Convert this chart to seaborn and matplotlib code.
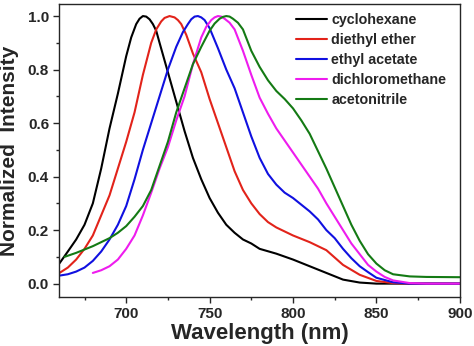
import numpy as np
import pandas as pd
import matplotlib
matplotlib.use("Agg")
import matplotlib.pyplot as plt
import seaborn as sns
from matplotlib.ticker import MultipleLocator

sns.set_style("ticks")
plt.rcParams['font.family'] = ['Liberation Sans', 'DejaVu Sans']
plt.rcParams['font.weight'] = 'bold'

# Data
cyc_x = [660, 665, 670, 675, 680, 685, 690, 695, 700, 703, 706, 708, 710, 712, 714, 716, 718, 720, 725, 730, 735, 740, 745, 750, 755, 760, 765, 770, 775, 780, 790, 800, 810, 820, 830, 840, 850, 900]
cyc_y = [0.076, 0.12, 0.165, 0.22, 0.30, 0.43, 0.58, 0.71, 0.85, 0.92, 0.97, 0.99, 1.0, 0.998, 0.988, 0.97, 0.945, 0.90, 0.79, 0.68, 0.57, 0.47, 0.39, 0.32, 0.265, 0.22, 0.19, 0.165, 0.15, 0.13, 0.112, 0.09, 0.065, 0.04, 0.015, 0.004, 0.0, 0.0]

dee_x = [660, 665, 670, 675, 680, 685, 690, 695, 700, 705, 710, 715, 718, 721, 723, 726, 729, 731, 733, 736, 740, 745, 750, 755, 760, 765, 770, 775, 780, 785, 790, 800, 810, 820, 830, 840, 850, 860, 870, 900]
dee_y = [0.04, 0.06, 0.09, 0.13, 0.18, 0.255, 0.33, 0.43, 0.53, 0.64, 0.78, 0.90, 0.95, 0.98, 0.993, 1.0, 0.995, 0.985, 0.97, 0.93, 0.86, 0.79, 0.69, 0.60, 0.51, 0.42, 0.35, 0.30, 0.26, 0.23, 0.21, 0.18, 0.155, 0.125, 0.07, 0.033, 0.01, 0.002, 0.0, 0.0]

eac_x = [660, 665, 670, 675, 680, 685, 690, 695, 700, 705, 710, 715, 720, 725, 730, 734, 737, 739, 741, 743, 745, 747, 750, 755, 760, 765, 770, 775, 780, 785, 790, 795, 800, 810, 815, 820, 825, 830, 835, 840, 845, 850, 860, 870, 900]
eac_y = [0.03, 0.035, 0.045, 0.06, 0.085, 0.12, 0.165, 0.22, 0.29, 0.39, 0.50, 0.60, 0.70, 0.80, 0.885, 0.94, 0.97, 0.988, 0.998, 1.0, 0.995, 0.985, 0.955, 0.88, 0.80, 0.73, 0.64, 0.55, 0.47, 0.41, 0.37, 0.34, 0.32, 0.27, 0.24, 0.20, 0.17, 0.13, 0.095, 0.065, 0.043, 0.022, 0.005, 0.0, 0.0]

dcm_x = [680, 685, 690, 695, 700, 705, 710, 715, 720, 725, 730, 735, 740, 745, 748, 751, 753, 755, 757, 759, 762, 765, 770, 775, 780, 785, 790, 795, 800, 805, 810, 815, 820, 825, 830, 835, 840, 845, 850, 855, 860, 870, 880, 900]
dcm_y = [0.04, 0.05, 0.065, 0.09, 0.13, 0.18, 0.255, 0.34, 0.43, 0.51, 0.61, 0.70, 0.82, 0.92, 0.96, 0.985, 0.995, 1.0, 0.998, 0.99, 0.975, 0.95, 0.87, 0.78, 0.695, 0.635, 0.58, 0.535, 0.49, 0.445, 0.40, 0.355, 0.30, 0.25, 0.20, 0.15, 0.11, 0.07, 0.045, 0.025, 0.012, 0.002, 0.0, 0.0]

acn_x = [663, 670, 680, 690, 695, 700, 705, 710, 715, 720, 725, 730, 735, 740, 745, 750, 753, 756, 758, 760, 762, 764, 767, 770, 775, 780, 785, 790, 795, 800, 805, 810, 815, 820, 825, 830, 835, 840, 845, 850, 855, 860, 870, 880, 900]
acn_y = [0.10, 0.115, 0.14, 0.17, 0.19, 0.215, 0.25, 0.29, 0.35, 0.44, 0.53, 0.64, 0.73, 0.82, 0.885, 0.945, 0.972, 0.99, 0.997, 1.0, 0.998, 0.99, 0.975, 0.95, 0.87, 0.81, 0.76, 0.72, 0.69, 0.655, 0.61, 0.56, 0.495, 0.43, 0.36, 0.29, 0.22, 0.16, 0.11, 0.075, 0.05, 0.035, 0.027, 0.025, 0.024]

series = [
    ("cyclohexane", cyc_x, cyc_y, "#000000"),
    ("diethyl ether", dee_x, dee_y, "#e2231a"),
    ("ethyl acetate", eac_x, eac_y, "#1010e0"),
    ("dichloromethane", dcm_x, dcm_y, "#ee1cee"),
    ("acetonitrile", acn_x, acn_y, "#147a14"),
]

fig = plt.figure(figsize=(4.74, 3.46), dpi=100)
ax = fig.add_axes([0.1255, 0.1416, 0.8445, 0.8468])

for name, xs, ys, col in series:
    sns.lineplot(x=xs, y=ys, ax=ax, color=col, linewidth=1.5, label=name, sort=False)

ax.set_xlim(660, 900)
ax.set_ylim(-0.05, 1.045)
ax.xaxis.set_major_locator(MultipleLocator(50))
ax.xaxis.set_minor_locator(MultipleLocator(25))
ax.yaxis.set_minor_locator(MultipleLocator(0.1))
ax.set_yticks([0.0, 0.2, 0.4, 0.6, 0.8, 1.0])
ax.set_yticklabels(["0.0", "0.2", "0.4", "0.6", "0.8", "1.0"])
ax.tick_params(axis='both', which='major', length=4, width=1, labelsize=11, direction='out')
ax.tick_params(axis='both', which='minor', length=2.5, width=1, direction='out')
for lbl in ax.get_xticklabels() + ax.get_yticklabels():
    lbl.set_fontweight('bold')
for sp in ax.spines.values():
    sp.set_linewidth(1.0)
    sp.set_visible(True)

ax.set_xlabel("Wavelength (nm)", fontsize=16, fontweight='bold', labelpad=1)
ax.set_ylabel("Normalized  Intensity", fontsize=15, fontweight='bold', labelpad=6)

leg = ax.legend(loc='upper left', bbox_to_anchor=(0.576, 0.99), frameon=False,
                handlelength=2.2, handletextpad=0.28, labelspacing=0.42, borderaxespad=0.0,
                prop={'weight': 'bold', 'size': 10.3})

fig.savefig("out.png", dpi=100)
